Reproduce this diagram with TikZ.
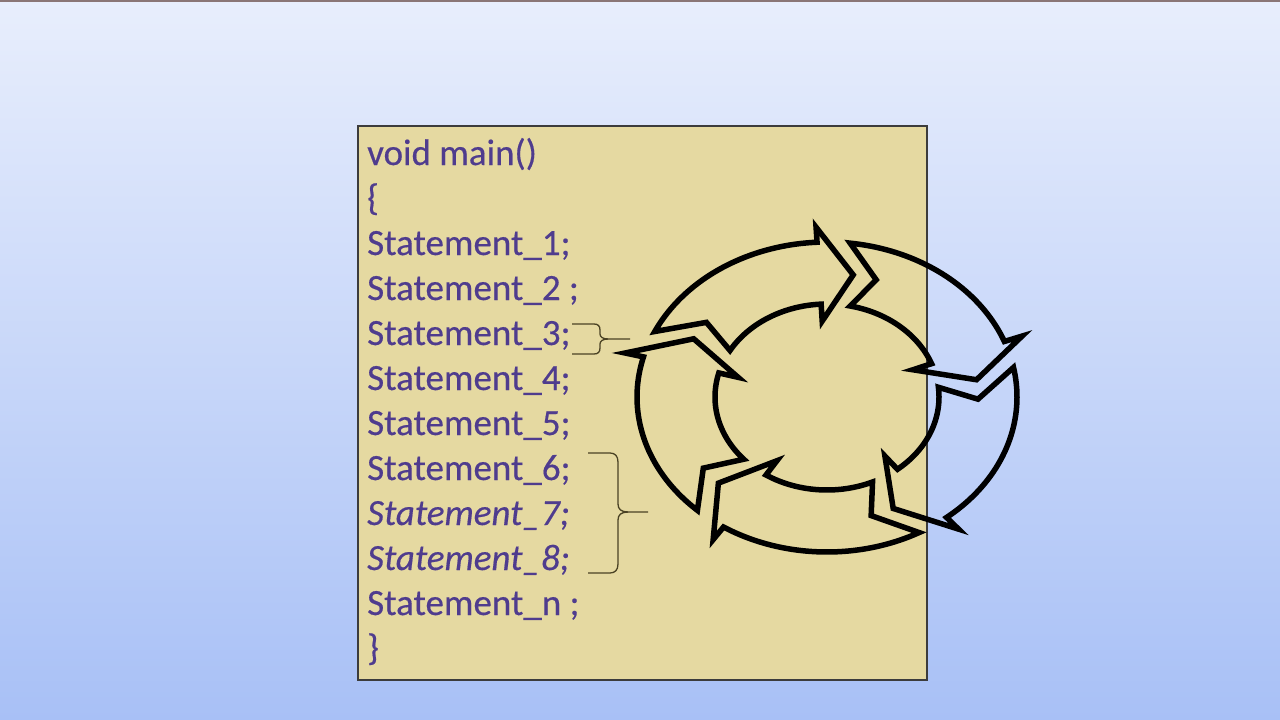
\documentclass[tikz,border=0pt]{standalone}
\usepackage{fontspec}
\setmainfont{Carlito}[FakeBold=0.4]
\definecolor{bgtop}{HTML}{E8EEFC}
\definecolor{bgbot}{HTML}{A8C0F6}
\definecolor{boxfill}{HTML}{E5D9A1}
\definecolor{boxline}{HTML}{3C3C3C}
\definecolor{codecol}{HTML}{4F3C8E}
\definecolor{bracecol}{HTML}{4A4224}
\definecolor{topline}{HTML}{8A7676}
\begin{document}
\begin{tikzpicture}[x=1pt,y=-1pt,
  code/.style={anchor=base west, inner sep=0pt, text=codecol, font=\fontsize{37}{40}\selectfont},
  codeit/.style={code, font=\fontsize{37}{40}\selectfont\itshape},
  brc/.style={draw=bracecol, line width=1.3pt},
  cyc/.style={draw=black, line width=5.5pt, line join=miter, miter limit=10}]
\useasboundingbox (0,0) rectangle (1280,720);
\shade[top color=bgtop, bottom color=bgbot] (0,0) rectangle (1280,720);
\fill[topline] (0,0) rectangle (1280,2);
% code box
\draw[fill=boxfill, draw=boxline, line width=1.3pt] (358,126) rectangle (927,680);
\node[code] (l0) at (367,165) {void main()};
\node[code] (l1) at (367,210) {\{};
\node[code] (l2) at (367,255) {Statement\_1;};
\node[code] (l3) at (367,300) {Statement\_2 ;};
\node[code] (l4) at (367,345) {Statement\_3;};
\node[code] (l5) at (367,390) {Statement\_4;};
\node[code] (l6) at (367,435) {Statement\_5;};
\node[code] (l7) at (367,480) {Statement\_6;};
\node[codeit] (l8) at (367,525) {Statement\_7;};
\node[codeit] (l9) at (367,570) {Statement\_8;};
\node[code] (l10) at (367,615) {Statement\_n ;};
\node[code] (l11) at (367,660) {\}};
% braces
\draw[brc] (572,324) -- (594,324) .. controls (598,324) and (600,326) .. (600,330) -- (600,334)
  .. controls (600,337) and (603,339) .. (608,339) -- (630,339);
\draw[brc] (572,354) -- (594,354) .. controls (598,354) and (600,352) .. (600,348) -- (600,344)
  .. controls (600,341) and (603,339) .. (608,339);
\draw[brc] (588,453) -- (610,453) .. controls (615,453) and (618,456) .. (618,462) -- (618,504)
  .. controls (618,509) and (621,512) .. (628,512) -- (648,512);
\draw[brc] (588,573) -- (610,573) .. controls (615,573) and (618,570) .. (618,564) -- (618,520)
  .. controls (618,515) and (621,512) .. (628,512);
% cycle of five curved arrows
\foreach \ang in {80,8,-64,-136,-208}{
  \pgfmathsetmacro{\so}{\ang+75}
  \pgfmathsetmacro{\si}{\ang+70}
  \pgfmathsetmacro{\hh}{\ang+13}
  \pgfmathsetmacro{\nn}{\ang+63}
  \draw[cyc] plot[domain=\so:\hh, samples=40] ({827+190*cos(\x)},{397-155*sin(\x)})
    -- ({827+209*cos(\hh)},{397-170*sin(\hh)})
    -- ({827+151*cos(\ang)},{397-124*sin(\ang)})
    -- ({827+92*cos(\hh)},{397-76*sin(\hh)})
    -- plot[domain=\hh:\si, samples=40] ({827+112*cos(\x)},{397-93*sin(\x)})
    -- ({827+151*cos(\nn)},{397-124*sin(\nn)}) -- cycle;
}
\end{tikzpicture}
\end{document}
